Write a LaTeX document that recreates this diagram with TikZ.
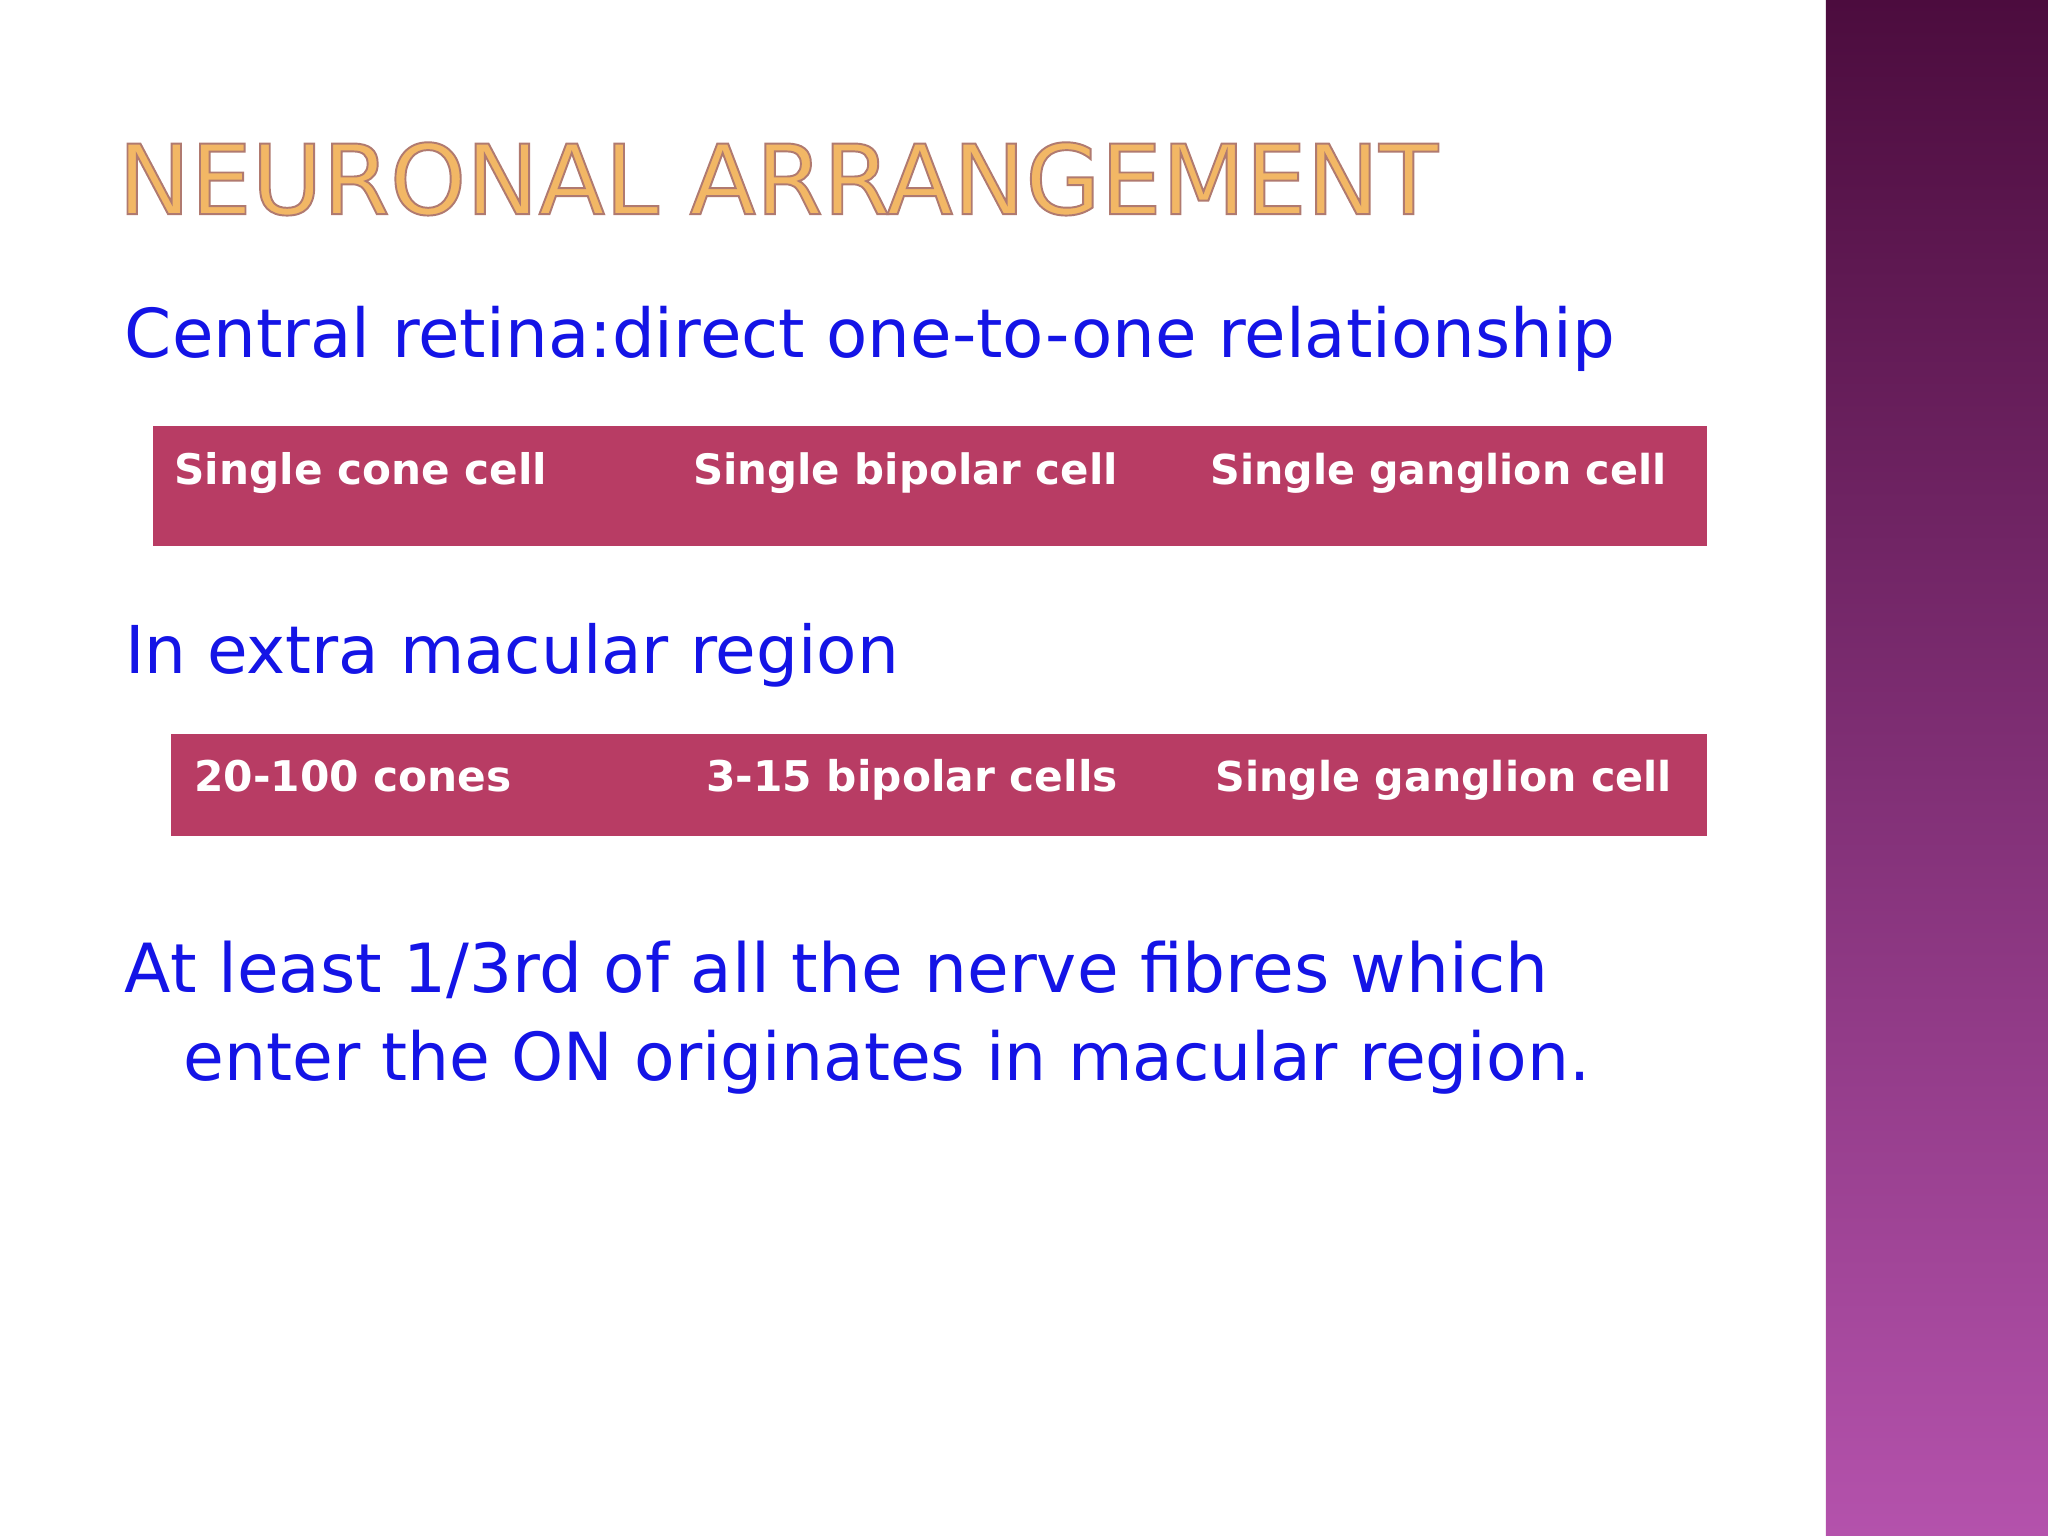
\documentclass[tikz,border=0pt]{standalone}
\usepackage{fontspec}
\setmainfont{DejaVu Sans}
\usepackage{graphicx}
\definecolor{txtblue}{HTML}{1414E6}
\definecolor{boxred}{HTML}{B83C64}
\definecolor{ttl}{HTML}{F2B765}
\definecolor{ttlline}{HTML}{B07A70}
\definecolor{bandtop}{HTML}{4C0C3E}
\definecolor{bandbot}{HTML}{B452AC}
\begin{document}
\begin{tikzpicture}[x=0.01cm,y=-0.01cm,
  body/.style={anchor=base west,inner sep=0,text=txtblue},
  cell/.style={anchor=base west,inner sep=0,text=white,font=\bfseries},
  bar/.style={fill=boxred,draw=none}]
\useasboundingbox (0,0) rectangle (1568,1176);
\fill[white] (0,0) rectangle (1568,1176);
\shade[top color=bandtop,bottom color=bandbot] (1398,0) rectangle (1568,1176);
\node[anchor=base west,inner sep=0,text=ttl] (title) at (90,164)
  {\resizebox{10.1cm}{!}{\pgfsetstrokecolor{ttlline}\pgfsetlinewidth{0.2pt}\special{pdf:literal 2 Tr}NEURONAL ARRANGEMENT\special{pdf:literal 0 Tr}}};
\node[body] (c) at (95,274) {\resizebox{11.4cm}{!}{Central retina:direct one-to-one relationship}};
\fill[bar] (117,326) rectangle (1307,418);
\node[cell] (a1) at (133,371) {\resizebox{2.85cm}{!}{Single cone cell}};
\node[cell] (a2) at (530,371) {\resizebox{3.25cm}{!}{Single bipolar cell}};
\node[cell] (a3) at (926,371) {\resizebox{3.49cm}{!}{Single ganglion cell}};
\node[body] (e) at (95,516) {\resizebox{5.92cm}{!}{In extra macular region}};
\fill[bar] (131,562) rectangle (1307,640);
\node[cell] (b1) at (148,606) {\resizebox{2.43cm}{!}{20-100 cones}};
\node[cell] (b2) at (540,606) {\resizebox{3.15cm}{!}{3-15 bipolar cells}};
\node[cell] (b3) at (930,606) {\resizebox{3.49cm}{!}{Single ganglion cell}};
\node[body] (l1) at (95,760) {\resizebox{10.89cm}{!}{At least 1/3rd of all the nerve fibres which}};
\node[body] (l2) at (140,827) {\resizebox{10.76cm}{!}{enter the ON originates in macular region.}};
\end{tikzpicture}
\end{document}
